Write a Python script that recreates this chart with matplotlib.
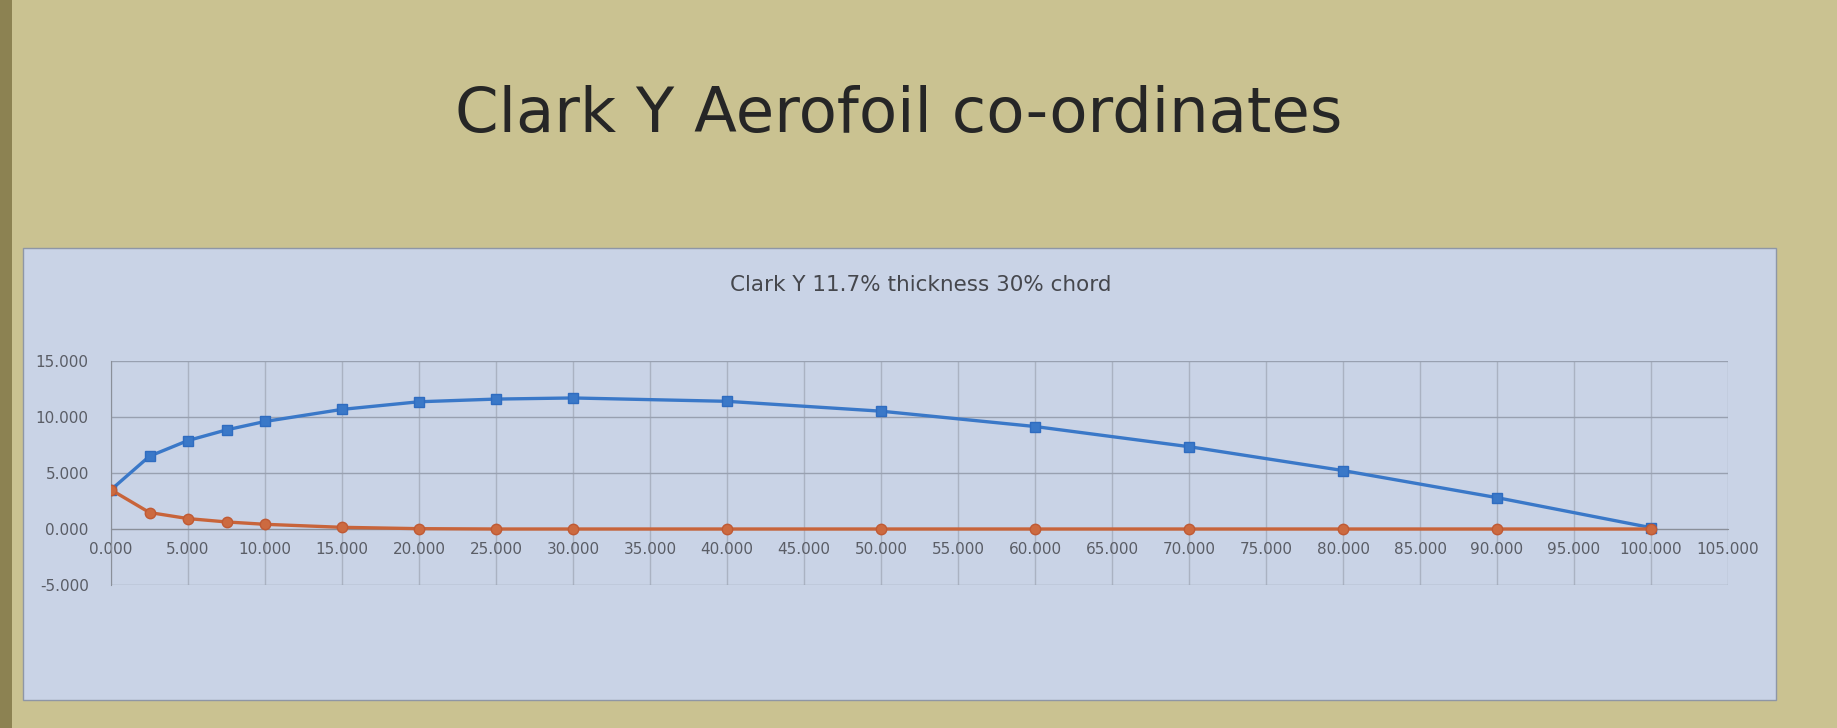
import numpy as np
import matplotlib
matplotlib.use("Agg")
import matplotlib.pyplot as plt
from matplotlib.patches import Rectangle
from matplotlib.ticker import FuncFormatter, MultipleLocator

# Clark Y stations (% chord) and surface ordinates (% chord)
x_pos = [0, 2.5, 5, 7.5, 10, 15, 20, 25, 30, 40, 50, 60, 70, 80, 90, 100]
y_upper = [3.50, 6.50, 7.90, 8.85, 9.60, 10.68, 11.36, 11.60, 11.70, 11.40,
           10.52, 9.15, 7.35, 5.22, 2.80, 0.12]
y_lower = [3.50, 1.47, 0.93, 0.63, 0.42, 0.15, 0.03, 0.0, 0.0, 0.0,
           0.0, 0.0, 0.0, 0.0, 0.0, 0.0]

page_title = "Clark Y Aerofoil co-ordinates"
chart_title = "Clark Y 11.7% thickness 30% chord"

W, H = 1837, 728
fig = plt.figure(figsize=(W / 100, H / 100), dpi=100)
fig.patch.set_facecolor('#cac291')

# darker strip at the far left of the slide
fig.patches.append(Rectangle((0, 0), 12 / W, 1, transform=fig.transFigure,
                             facecolor='#8c8252', edgecolor='none', zorder=-2))
# chart panel
fig.patches.append(Rectangle((23 / W, 1 - 700 / H), (1776 - 23) / W, (700 - 248) / H,
                             transform=fig.transFigure, facecolor='#c9d3e6',
                             edgecolor='#8e96a6', linewidth=1.0, zorder=-2))

fig.text(899 / W, 1 - 115 / H, page_title, ha='center', va='center',
         fontsize=45, color='#262626', family='DejaVu Sans')
fig.text(921 / W, 1 - 285 / H, chart_title, ha='center', va='center',
         fontsize=15.5, color='#45474d', family='DejaVu Sans')

ax = fig.add_axes([111 / W, 1 - 585 / H, (1728 - 111) / W, (585 - 361) / H])
ax.set_facecolor('none')

ax.plot(x_pos, y_upper, color='#3a78c8', lw=2.4, marker='s', ms=7.5,
        mec='#2f6cc0', mfc='#3a78c8', zorder=3)
ax.plot(x_pos, y_lower, color='#c8643a', lw=2.4, marker='o', ms=7.5,
        mec='#c05a34', mfc='#cc6a40', zorder=4)

ax.set_xlim(0, 105)
ax.set_ylim(-5, 15)
ax.xaxis.set_major_locator(MultipleLocator(5))
ax.yaxis.set_major_locator(MultipleLocator(5))
fmt = FuncFormatter(lambda v, p: f"{v:.3f}")
ax.xaxis.set_major_formatter(fmt)
ax.yaxis.set_major_formatter(fmt)

ax.grid(True, axis='x', color='#aab2c2', lw=1.0, zorder=0)
ax.grid(True, axis='y', color='#98a0b0', lw=1.0, zorder=0)
ax.spines['top'].set_visible(False)
ax.spines['right'].set_visible(False)
ax.spines['bottom'].set_position(('data', 0))
ax.spines['bottom'].set_color('#8a8f99')
ax.spines['left'].set_color('#8a8f99')
ax.tick_params(axis='both', length=0, labelsize=11, labelcolor='#5a5d66')
ax.tick_params(axis='x', pad=9)
ax.tick_params(axis='y', pad=16)

fig.savefig('out.png', dpi=100, facecolor=fig.get_facecolor())
